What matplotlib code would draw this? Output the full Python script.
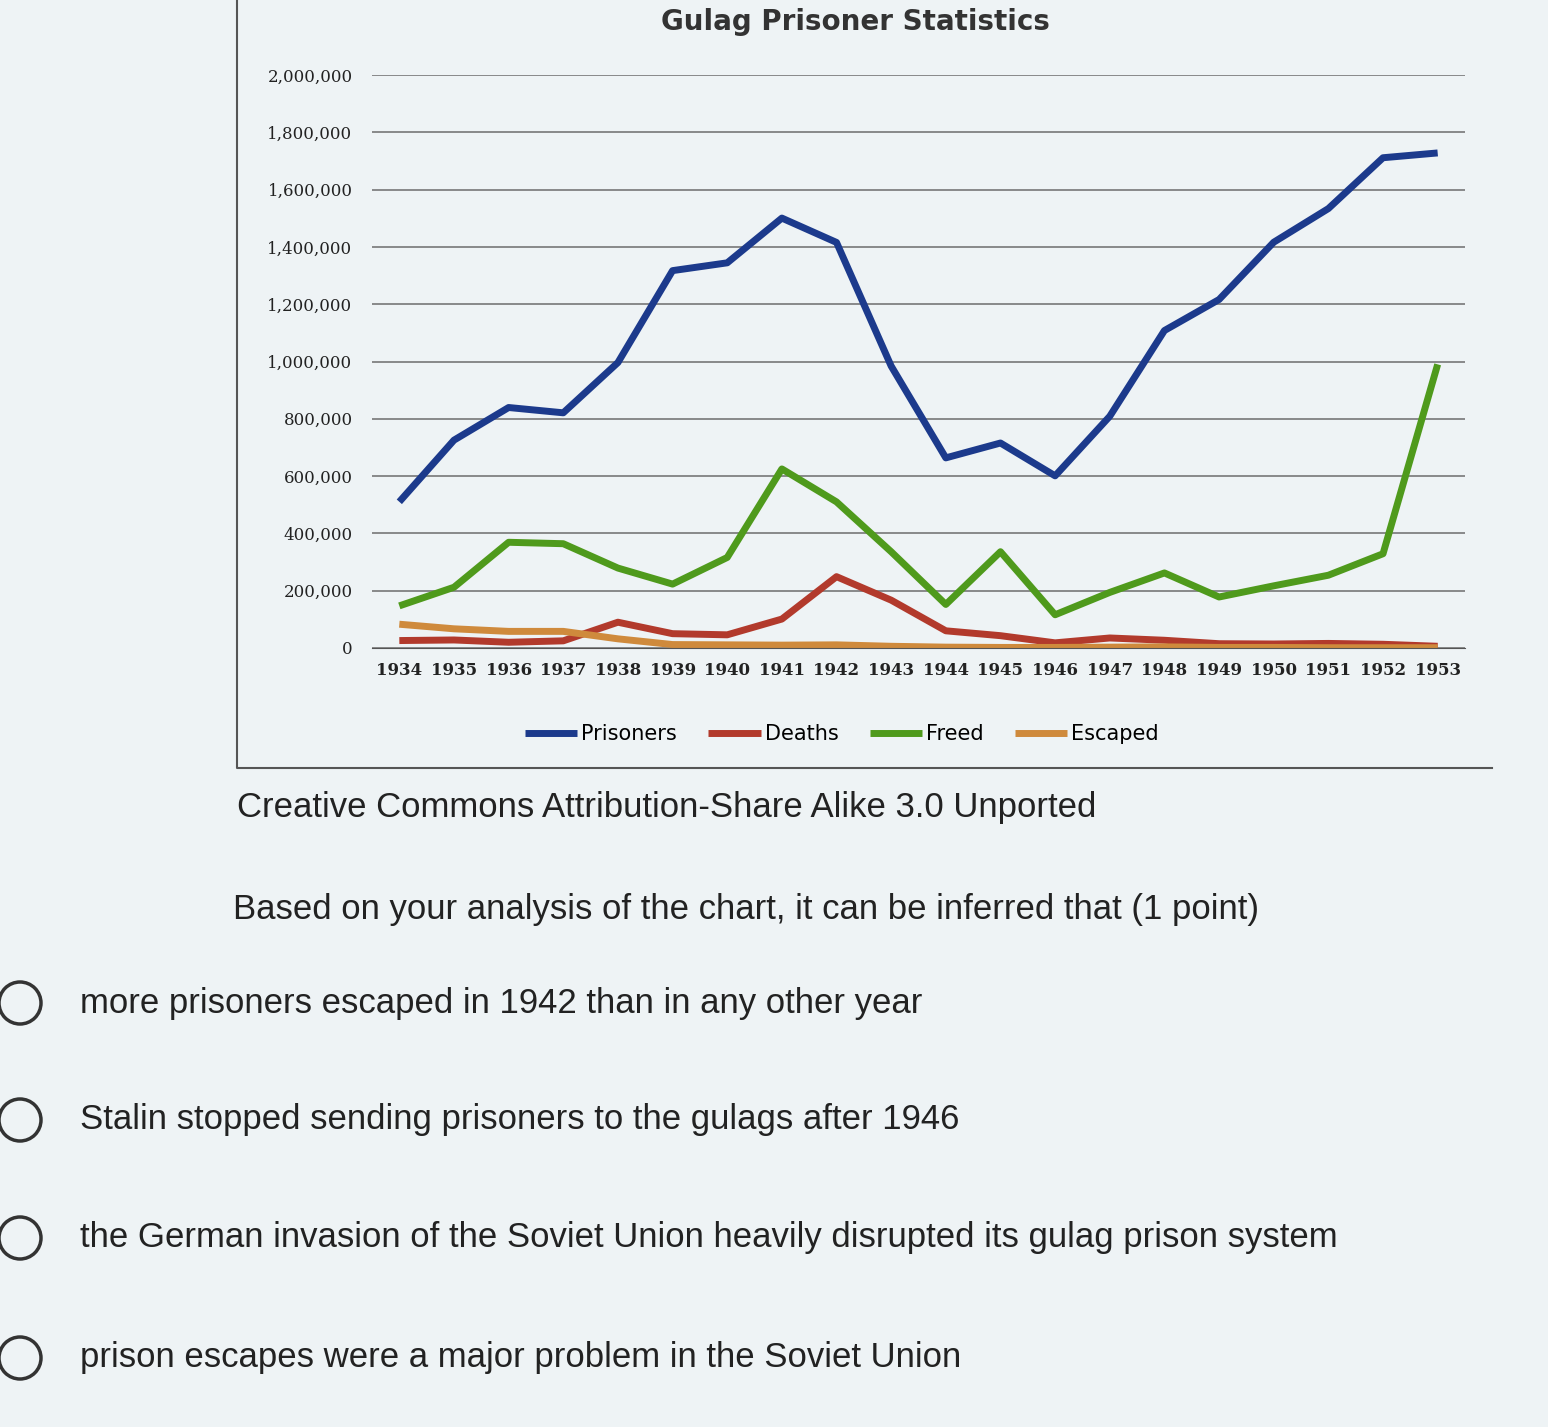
import matplotlib
matplotlib.use("Agg")
import matplotlib.pyplot as plt
from matplotlib.patches import Circle, Rectangle

years = list(range(1934, 1954))
prisoners = [510307, 725483, 839406, 820881, 996367, 1317195, 1344408, 1500524, 1415596, 983974,
             663594, 715506, 600897, 808839, 1108057, 1216361, 1416300, 1533767, 1711202, 1727970]
deaths = [26000, 28000, 20000, 25000, 90000, 50000, 46000, 101000, 249000, 167000,
          60000, 43000, 18000, 35000, 27000, 15000, 14000, 16000, 13000, 6000]
freed = [147000, 212000, 369000, 364000, 279000, 223000, 316000, 625000, 510000, 336000,
         152000, 336000, 116000, 194000, 262000, 178000, 217000, 254000, 329000, 990000]
escaped = [83000, 67000, 58000, 58000, 32000, 12000, 11000, 10000, 11000, 6000,
           3000, 2000, 2000, 3000, 4000, 2000, 2000, 1000, 1000, 1000]
series = [("Prisoners", prisoners, "#1c3a8c"), ("Deaths", deaths, "#b23a2c"),
          ("Freed", freed, "#4f9a1c"), ("Escaped", escaped, "#cf8a3c")]
yticks = list(range(0, 2000001, 200000))
question = "Based on your analysis of the chart, it can be inferred that (1 point)"
options = ["more prisoners escaped in 1942 than in any other year",
           "Stalin stopped sending prisoners to the gulags after 1946",
           "the German invasion of the Soviet Union heavily disrupted its gulag prison system",
           "prison escapes were a major problem in the Soviet Union"]

W, H = 1548, 1427
fig = plt.figure(figsize=(W/100, H/100), dpi=100, facecolor="#eef3f5")
bg = fig.add_axes([0, 0, 1, 1]); bg.set_xlim(0, W); bg.set_ylim(H, 0); bg.axis("off")
bg.plot([237, 237, 1492], [0, 768, 768], color="#555555", lw=1.5)

ax = fig.add_axes([372/W, 1-648/H, (1465-372)/W, (648-75)/H])
ax.set_facecolor("none")
for name, vals, c in series:
    ax.plot(years, vals, color=c, lw=5, label=name, solid_capstyle="butt")
ax.set_xlim(1933.5, 1953.5); ax.set_ylim(0, 2000000)
ax.set_yticks(yticks)
ax.set_yticklabels([f"{v:,}" for v in yticks], family="DejaVu Serif", fontsize=12, color="#222222")
ax.set_xticks(years)
ax.set_xticklabels([str(y) for y in years], family="DejaVu Serif", fontsize=12, fontweight="bold", color="#222222")
ax.grid(axis="y", color="#777777", lw=1.2)
for s in ["top", "right", "left"]:
    ax.spines[s].set_visible(False)
ax.spines["bottom"].set_color("#555555")
ax.tick_params(axis="y", length=0, pad=14)
ax.tick_params(axis="x", length=0, pad=10)
ax.legend(loc="upper center", bbox_to_anchor=(0.43, -0.1), ncol=4, frameon=False,
          fontsize=15, handlelength=2.5, columnspacing=1.5, handletextpad=0.2)

bg.text(855, 22, "Gulag Prisoner Statistics", ha="center", va="center", fontsize=20,
        fontweight="bold", family="DejaVu Sans", color="#333333")
bg.text(237, 808, "Creative Commons Attribution-Share Alike 3.0 Unported", ha="left", va="center",
        fontsize=25, family="Liberation Sans", color="#222222")
bg.text(233, 910, question, ha="left", va="center", fontsize=25, family="Liberation Sans", color="#222222")
for y, t in zip([1003, 1120, 1238, 1358], options):
    bg.add_patch(Circle((20, y), 21, fill=False, edgecolor="#333333", lw=2.5))
    bg.text(80, y, t, ha="left", va="center", fontsize=25, family="Liberation Sans", color="#222222")

fig.savefig("out.png", dpi=100, facecolor=fig.get_facecolor())
